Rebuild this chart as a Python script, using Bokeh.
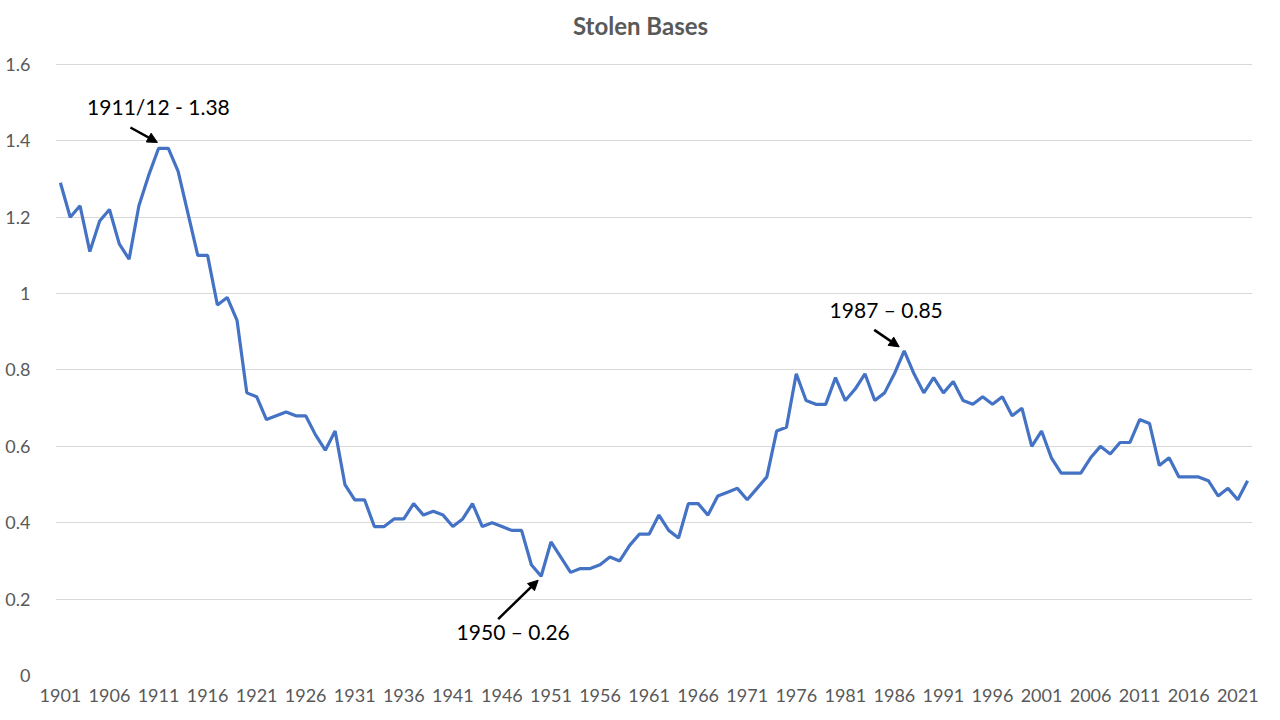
from bokeh.plotting import figure
from bokeh.models import (ColumnDataSource, Range1d, FixedTicker, NumeralTickFormatter,
                          Arrow, NormalHead)
from bokeh.core.properties import value
from bokeh.embed import file_html
from bokeh.resources import INLINE

# stolen bases per game, 1901-2022
years = list(range(1901, 2023))
steals = [
    1.29, 1.20, 1.23, 1.11, 1.19, 1.22, 1.13, 1.09, 1.23, 1.31,  # 1901-1910
    1.38, 1.38, 1.32, 1.21, 1.10, 1.10, 0.97, 0.99, 0.93, 0.74,  # 1911-1920
    0.73, 0.67, 0.68, 0.69, 0.68, 0.68, 0.63, 0.59, 0.64, 0.50,  # 1921-1930
    0.46, 0.46, 0.39, 0.39, 0.41, 0.41, 0.45, 0.42, 0.43, 0.42,  # 1931-1940
    0.39, 0.41, 0.45, 0.39, 0.40, 0.39, 0.38, 0.38, 0.29, 0.26,  # 1941-1950
    0.35, 0.31, 0.27, 0.28, 0.28, 0.29, 0.31, 0.30, 0.34, 0.37,  # 1951-1960
    0.37, 0.42, 0.38, 0.36, 0.45, 0.45, 0.42, 0.47, 0.48, 0.49,  # 1961-1970
    0.46, 0.49, 0.52, 0.64, 0.65, 0.79, 0.72, 0.71, 0.71, 0.78,  # 1971-1980
    0.72, 0.75, 0.79, 0.72, 0.74, 0.79, 0.85, 0.79, 0.74, 0.78,  # 1981-1990
    0.74, 0.77, 0.72, 0.71, 0.73, 0.71, 0.73, 0.68, 0.70, 0.60,  # 1991-2000
    0.64, 0.57, 0.53, 0.53, 0.53, 0.57, 0.60, 0.58, 0.61, 0.61,  # 2001-2010
    0.67, 0.66, 0.55, 0.57, 0.52, 0.52, 0.52, 0.51, 0.47, 0.49,  # 2011-2020
    0.46, 0.51,                                                  # 2021-2022
]
x_ticks = list(range(1901, 2022, 5))
y_ticks = [0, 0.2, 0.4, 0.6, 0.8, 1.0, 1.2, 1.4, 1.6]
title = "Stolen Bases"

# callouts: label, year, value
note_text = ["1911/12 - 1.38", "1987 \u2013 0.85", "1950 \u2013 0.26"]
note_year = [1911.5, 1987, 1950]
note_val = [1.38, 0.85, 0.26]

FONT = "Lato"
GREY = "#595959"

W, H = 1264, 704
LEFT, RIGHT, TOP, BOTTOM = 55, 12, 8, 28
X0, X1 = 1900.5, 2022.5
Y0, Y1 = 0, 1.6
HEAD = 56          # px of headroom above the 1.6 gridline, holds the title
TITLE_X = 640      # px from the left edge

px_x = (W - LEFT - RIGHT) / (X1 - X0)
px_y = (H - TOP - BOTTOM - HEAD) / (Y1 - Y0)
Y_TOP = Y1 + HEAD / px_y

p = figure(width=W, height=H, output_backend="svg", toolbar_location=None,
           x_range=Range1d(X0, X1), y_range=Range1d(Y0, Y_TOP),
           min_border_left=LEFT, min_border_right=RIGHT,
           min_border_top=TOP, min_border_bottom=BOTTOM)
p.outline_line_color = None

# chart title, centred on the page
p.text(x=[X0 + (TITLE_X - LEFT) / px_x], y=[Y1 + (HEAD - 17) / px_y], text=[title],
       text_font=value(FONT), text_font_size="24px", text_font_style="bold",
       text_color=GREY, text_align="center", text_baseline="middle")

p.xgrid.grid_line_color = None
p.ygrid.grid_line_color = "#d9d9d9"
p.ygrid.ticker = FixedTicker(ticks=y_ticks)

for ax in (p.xaxis, p.yaxis):
    ax.axis_line_color = None
    ax.major_tick_line_color = None
    ax.minor_tick_line_color = None
    ax.major_label_text_font = FONT
    ax.major_label_text_font_size = "18px"
    ax.major_label_text_color = GREY
p.xaxis.ticker = FixedTicker(ticks=x_ticks)
p.xaxis.major_label_standoff = 7
p.yaxis.ticker = FixedTicker(ticks=y_ticks)
p.yaxis.formatter = NumeralTickFormatter(format="0.[0]")
p.yaxis.major_label_standoff = 19

src = ColumnDataSource(data=dict(year=years, sb=steals))
p.line("year", "sb", source=src, line_color="#4472C4", line_width=3.2)

# text offsets (px, right/up) and arrow start/tip offsets (px) per callout
text_off = [(-5, 42), (-18, 41), (-28, -55)]
arrow_off = [((-33, 21), (-6, 6)), ((-30, 21), (-5, 4)), ((-43, -43), (-3, -4))]

for txt, yr, v, (tx, ty), ((sx, sy), (ex, ey)) in zip(note_text, note_year, note_val,
                                                        text_off, arrow_off):
    p.text(x=[yr], y=[v], text=[txt], x_offset=tx, y_offset=-ty,
           text_font=value(FONT), text_font_size="21px", text_color="black",
           text_align="center", text_baseline="middle")
    p.add_layout(Arrow(end=NormalHead(size=10, fill_color="black", line_color="black"),
                       x_start=yr + sx / px_x, y_start=v + sy / px_y,
                       x_end=yr + ex / px_x, y_end=v + ey / px_y,
                       line_color="black", line_width=2.5))

open("out.html", "w").write(file_html(p, INLINE))
